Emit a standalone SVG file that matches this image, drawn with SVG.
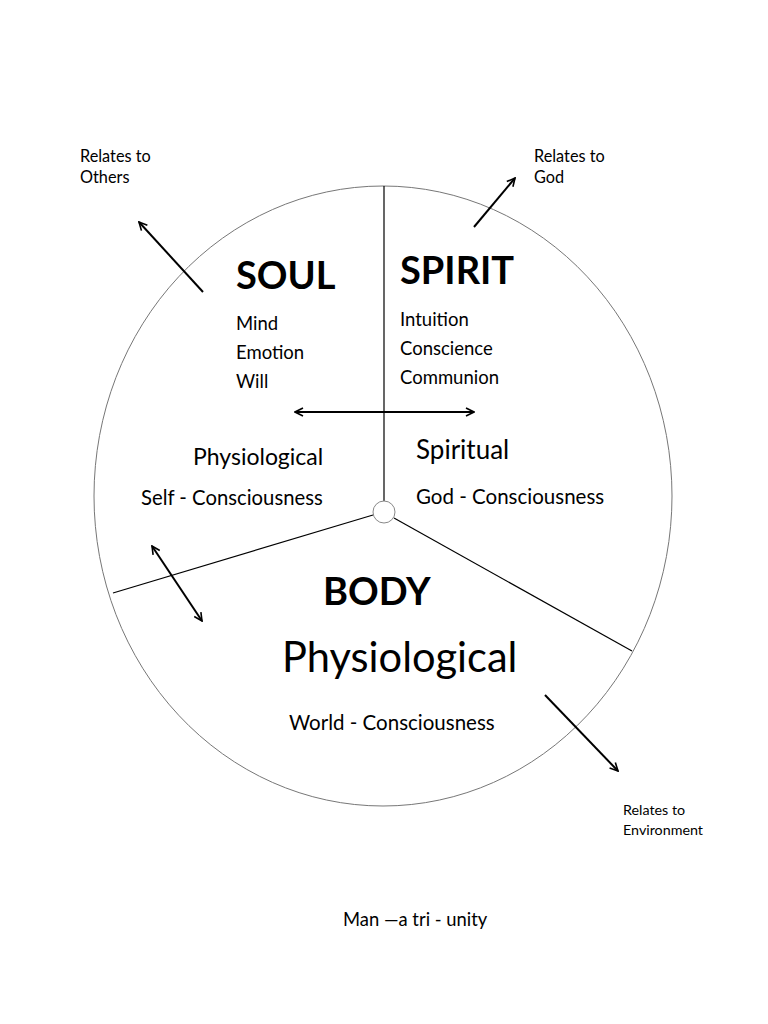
<svg xmlns="http://www.w3.org/2000/svg" width="768" height="1024" viewBox="0 0 768 1024">
<style>
text{font-family:Lato,"Open Sans","Liberation Sans",sans-serif;fill:#000}
.s{font-size:16.3px}
.m{font-size:18.5px}
.h{font-size:38px;font-weight:bold}
.thin{stroke:#000;stroke-width:1.2;fill:none}
.arr{stroke:#000;stroke-width:2;fill:none}
</style>
<defs>
<marker id="a" viewBox="0 0 10 10" refX="9" refY="5" markerWidth="5" markerHeight="5" orient="auto-start-reverse" markerUnits="strokeWidth">
<path d="M1,1 L9,5 L1,9" fill="none" stroke="#000" stroke-width="1.6"/>
</marker>
</defs>
<rect width="768" height="1024" fill="#fff"/>
<g id="circle">
<ellipse cx="383" cy="496" rx="289" ry="310" fill="none" stroke="#777" stroke-width="1"/>
</g>
<g id="connectors">
<line class="thin" x1="384" y1="186" x2="384" y2="501"/>
<line class="thin" x1="373" y1="515" x2="113" y2="593"/>
<line class="thin" x1="394" y1="518" x2="632" y2="651"/>
<circle cx="384" cy="512" r="11" fill="#fff" stroke="#888" stroke-width="1"/>
<line class="arr" x1="295" y1="412" x2="474" y2="412" marker-start="url(#a)" marker-end="url(#a)"/>
<line class="arr" x1="203" y1="292" x2="139" y2="222" marker-end="url(#a)"/>
<line class="arr" x1="474" y1="227" x2="515" y2="178" marker-end="url(#a)"/>
<line class="arr" x1="152" y1="546" x2="202" y2="621" marker-start="url(#a)" marker-end="url(#a)"/>
<line class="arr" x1="545" y1="695" x2="618" y2="771" marker-end="url(#a)"/>
</g>
<g id="others"><text class="s" x="80" y="162">Relates to</text><text class="s" x="80" y="183">Others</text></g>
<g id="god"><text class="s" x="534" y="162">Relates to</text><text class="s" x="534" y="183">God</text></g>
<g id="env"><text x="623" y="815" style="font-size:14.3px">Relates to</text><text x="623" y="835" style="font-size:14.3px">Environment</text></g>
<g id="soul">
<text class="h" x="236" y="289">SOUL</text>
<text class="m" x="236" y="330">Mind</text>
<text class="m" x="236" y="359">Emotion</text>
<text class="m" x="236" y="388">Will</text>
<text x="193" y="465" style="font-size:23px">Physiological</text>
<text x="141" y="505" style="font-size:20.3px">Self - Consciousness</text>
</g>
<g id="spirit">
<text class="h" x="400" y="284">SPIRIT</text>
<text class="m" x="400" y="326">Intuition</text>
<text class="m" x="400" y="355">Conscience</text>
<text class="m" x="400" y="384">Communion</text>
<text x="416" y="459" style="font-size:26px">Spiritual</text>
<text x="416" y="504" style="font-size:20.5px">God - Consciousness</text>
</g>
<g id="body">
<text class="h" x="323" y="605">BODY</text>
<text x="282" y="672" style="font-size:41.6px">Physiological</text>
<text x="289" y="730" style="font-size:20.5px">World - Consciousness</text>
</g>
<g id="caption"><text x="343" y="926" style="font-size:18.4px">Man ―a tri - unity</text></g>
</svg>
